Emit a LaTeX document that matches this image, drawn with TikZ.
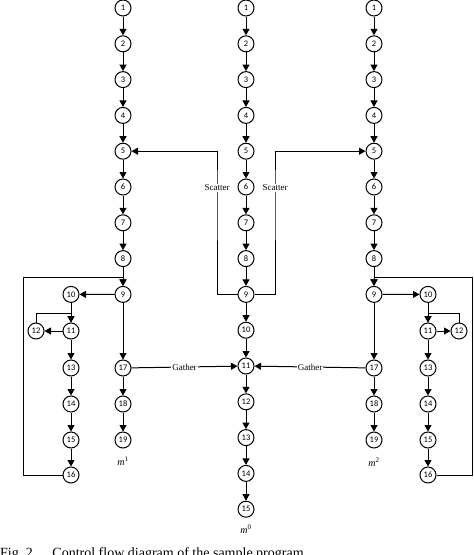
\documentclass[tikz,border=0pt]{standalone}
\usepackage{fontspec}
\setmainfont{Liberation Serif}
\newfontfamily\numfont{Carlito}
\usetikzlibrary{arrows.meta}
\tikzset{
  st/.style={circle,draw,line width=1pt,minimum size=16pt,inner sep=0pt,font=\numfont\fontsize{8.5}{8.5}\selectfont},
  flow/.style={line width=1pt,-{Triangle[length=6.5pt,width=7pt]}},
  lbl/.style={fill=white,inner sep=1pt,font=\fontsize{9}{9}\selectfont},
  mlbl/.style={font=\fontsize{10}{10}\selectfont},
}
\begin{document}
\begin{tikzpicture}[x=1pt,y=-1pt]
\useasboundingbox (0,0) rectangle (474,555);
% the three processes, nodes 1 to 9
\foreach \c/\x in {l/123,c/246,r/374}{
  \foreach \k in {1,...,9}
    \node[st] (\c\k) at (\x,{8+35.8*(\k-1)}) {\k};
  \foreach \k [evaluate=\k as \n using int(\k+1)] in {1,...,8}
    \draw[flow] (\c\k) -- (\c\n);
}
% master goes on
\foreach \k in {10,...,15}
  \node[st] (c\k) at (246,{8+35.8*(\k-1)}) {\k};
\foreach \k [evaluate=\k as \n using int(\k+1)] in {9,...,14}
  \draw[flow] (c\k) -- (c\n);
\node[mlbl] (m0) at (246,529) {\textit{m}\textsuperscript{0}};

% slaves
\foreach \c/\x/\b/\e in {l/123/71/36,r/374/428/459}{
  \node[st] (\c10) at (\b,294.4) {10};
  \node[st] (\c11) at (\b,331) {11};
  \node[st] (\c12) at (\e,331) {12};
  \node[st] (\c13) at (\b,368) {13};
  \node[st] (\c14) at (\b,404) {14};
  \node[st] (\c15) at (\b,440) {15};
  \node[st] (\c16) at (\b,475) {16};
  \node[st] (\c17) at (\x,368) {17};
  \node[st] (\c18) at (\x,404) {18};
  \node[st] (\c19) at (\x,440) {19};
  \coordinate (\c j) at (\b,313);
  \draw[flow] (\c9) -- (\c10);
  \draw[flow] (\c10) -- (\c11);
  \draw[flow] (\c11) -- (\c12);
  \draw[flow] (\c12) |- (\c j) -- (\c11);
  \draw[flow] (\c11) -- (\c13);
  \draw[flow] (\c13) -- (\c14);
  \draw[flow] (\c14) -- (\c15);
  \draw[flow] (\c15) -- (\c16);
  \draw[flow] (\c9) -- (\c17);
  \draw[flow] (\c17) -- (\c18);
  \draw[flow] (\c18) -- (\c19);
  \draw[flow] (\c17) -- node[lbl] {Gather} (c11);
}
\coordinate (lL) at (23,277);
\coordinate (rL) at (472,277);
\draw[flow] (l16) -| (lL) -| (l9);
\draw[flow] (r16) -| (rL) -| (r9);
\node[mlbl] (m1) at (123,461) {\textit{m}\textsuperscript{1}};
\node[mlbl] (m2) at (374,462) {\textit{m}\textsuperscript{2}};

% scatter
\coordinate (sL) at (217,188);
\coordinate (sR) at (275,188);
\draw[flow] (c9) -| (sL) |- (l5);
\draw[flow] (c9) -| (sR) |- (r5);
\node[lbl] at (sL) {Scatter};
\node[lbl] at (sR) {Scatter};

\node[anchor=base west,inner sep=0pt,font=\fontsize{14}{14}\selectfont] (cap) at (0,557)
  {Fig.~2\hspace{1.4em}Control flow diagram of the sample program};
\end{tikzpicture}
\end{document}
